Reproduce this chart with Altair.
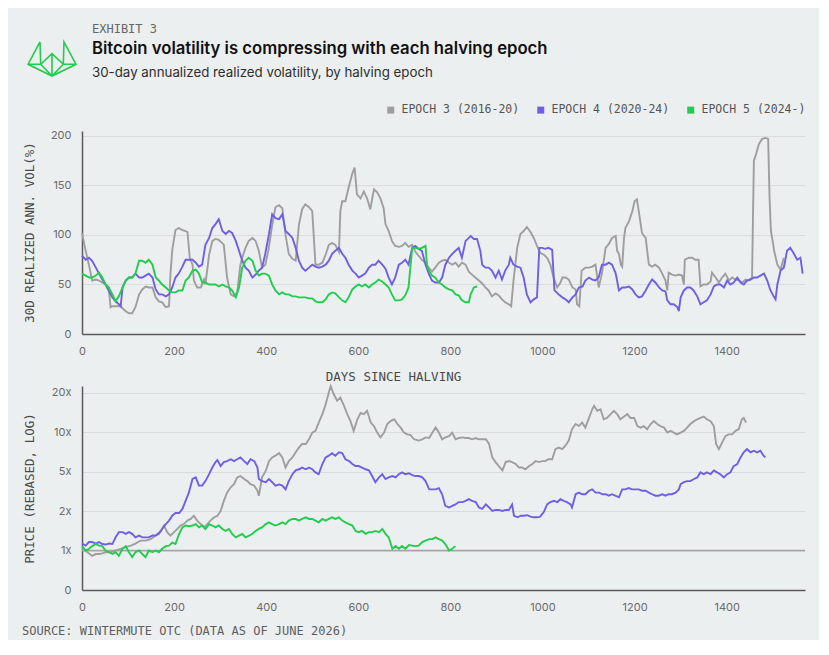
import pandas as pd
import altair as alt

MONO = "DejaVu Sans Mono"
SANS = "Inter"

EPOCHS = ["EPOCH 3 (2016-20)", "EPOCH 4 (2020-24)", "EPOCH 5 (2024-)"]
COLORS = ["#9e9e9e", "#6f5fe3", "#22cc4d"]

# 30-day annualized realized vol (%) -> (days since halving, value)
vol_e3 = [(0, 102), (8, 84), (15, 70), (22, 54), (30, 55), (37, 54), (44, 52), (51, 50), (58, 47), (62, 27), (66, 28),
          (73, 28), (84, 28), (88, 26), (95, 23), (102, 21), (109, 21), (116, 27), (124, 40), (131, 45), (138, 48),
          (145, 47), (153, 47), (160, 37), (167, 33), (174, 32), (182, 27), (189, 28), (192, 60), (196, 85), (203, 105),
          (210, 107), (218, 105), (225, 104), (229, 103), (234, 77), (240, 70), (243, 54), (250, 47), (258, 47),
          (265, 55), (268, 50), (276, 80), (283, 94), (290, 96), (297, 95), (304, 92), (308, 90), (315, 57), (323, 40),
          (330, 38), (337, 42), (344, 70), (348, 77), (355, 87), (362, 94), (370, 97), (377, 94), (384, 84), (391, 67),
          (398, 70), (405, 85), (413, 110), (420, 128), (428, 130), (435, 127), (442, 100), (449, 81), (457, 76),
          (464, 74), (471, 110), (478, 126), (485, 131), (493, 128), (500, 124), (507, 70), (514, 70), (522, 72),
          (529, 80), (536, 90), (543, 92), (550, 90), (558, 83), (561, 124), (565, 134), (572, 134), (579, 148),
          (587, 162), (592, 168), (597, 141), (605, 137), (612, 144), (619, 137), (626, 126), (634, 146), (641, 143),
          (648, 137), (655, 127), (659, 111), (666, 104), (673, 94), (680, 89), (688, 88), (695, 89), (702, 92),
          (709, 88), (717, 90), (724, 83), (731, 79), (738, 75), (746, 72), (753, 67), (760, 63), (767, 67), (775, 72),
          (782, 74), (789, 75), (797, 72), (804, 70), (811, 72), (818, 68), (825, 72), (833, 70), (840, 63), (847, 60),
          (854, 57), (862, 54), (869, 51), (876, 47), (883, 44), (890, 38), (898, 41), (905, 39), (912, 35), (919, 32),
          (927, 30), (932, 28), (937, 54), (945, 87), (952, 101), (959, 104), (966, 108), (974, 103), (981, 97),
          (988, 89), (995, 82), (1003, 80), (1010, 77), (1017, 70), (1024, 57), (1032, 47), (1039, 52), (1043, 57),
          (1050, 57), (1057, 55), (1065, 47), (1072, 45), (1075, 30), (1080, 28), (1085, 64), (1093, 67), (1101, 67),
          (1108, 68), (1115, 70), (1122, 47), (1129, 61), (1137, 87), (1144, 91), (1151, 97), (1159, 99), (1162, 84),
          (1166, 81), (1170, 70), (1173, 68), (1177, 97), (1180, 107), (1188, 114), (1195, 124), (1200, 134),
          (1205, 136), (1210, 121), (1216, 102), (1224, 97), (1231, 70), (1238, 68), (1245, 70), (1253, 67), (1260, 61),
          (1267, 54), (1271, 44), (1274, 62), (1281, 60), (1289, 59), (1296, 60), (1303, 59), (1307, 50), (1309, 75),
          (1318, 77), (1325, 77), (1332, 75), (1339, 75), (1343, 48), (1350, 50), (1357, 50), (1365, 53), (1368, 62),
          (1376, 57), (1383, 52), (1390, 57), (1397, 61), (1405, 54), (1412, 57), (1419, 55), (1427, 54), (1434, 52),
          (1441, 55), (1448, 54), (1455, 57), (1459, 175), (1464, 182), (1470, 192), (1477, 197), (1484, 198),
          (1490, 197), (1493, 138), (1496, 104), (1499, 96), (1503, 84), (1510, 70), (1517, 65), (1524, 77)]

vol_e4 = [(0, 79), (8, 75), (15, 77), (22, 74), (30, 67), (37, 61), (44, 55), (51, 50), (58, 44), (66, 37), (73, 33),
          (80, 30), (84, 28), (88, 47), (95, 54), (102, 57), (109, 57), (116, 61), (124, 57), (131, 57), (138, 59),
          (145, 61), (153, 57), (160, 45), (167, 40), (174, 40), (182, 38), (189, 40), (196, 47), (203, 57), (210, 61),
          (218, 68), (225, 75), (232, 75), (240, 75), (247, 72), (254, 68), (261, 70), (268, 90), (276, 97), (283, 107),
          (290, 111), (297, 116), (305, 104), (312, 101), (319, 104), (326, 102), (334, 94), (341, 84), (348, 74),
          (355, 67), (362, 64), (370, 57), (377, 60), (384, 64), (391, 67), (398, 81), (406, 101), (413, 121),
          (420, 117), (428, 116), (435, 121), (442, 104), (449, 101), (457, 97), (464, 87), (471, 74), (478, 67),
          (485, 64), (493, 67), (500, 70), (507, 68), (514, 67), (522, 68), (529, 70), (536, 74), (543, 81), (550, 84),
          (558, 87), (565, 81), (572, 77), (579, 70), (587, 64), (594, 61), (601, 57), (608, 59), (615, 61), (623, 67),
          (630, 70), (637, 70), (644, 74), (652, 70), (659, 66), (666, 57), (673, 50), (680, 57), (688, 70), (695, 72),
          (702, 75), (709, 70), (717, 87), (724, 89), (731, 86), (738, 84), (746, 70), (753, 61), (760, 54), (767, 52),
          (775, 52), (782, 57), (789, 70), (797, 77), (804, 81), (811, 84), (818, 87), (825, 77), (833, 94), (840, 97),
          (844, 99), (851, 96), (858, 96), (865, 84), (869, 70), (876, 67), (883, 67), (890, 64), (898, 57), (905, 64),
          (912, 55), (919, 64), (927, 70), (930, 77), (937, 70), (945, 68), (952, 67), (959, 57), (966, 40), (974, 32),
          (981, 35), (988, 37), (993, 87), (999, 87), (1006, 86), (1013, 87), (1021, 85), (1026, 44), (1035, 40),
          (1043, 37), (1050, 35), (1057, 32), (1065, 37), (1072, 40), (1079, 47), (1087, 48), (1093, 54), (1101, 57),
          (1108, 55), (1115, 54), (1122, 57), (1129, 70), (1137, 70), (1144, 72), (1151, 70), (1159, 61), (1166, 44),
          (1173, 47), (1180, 47), (1188, 48), (1195, 45), (1202, 40), (1209, 37), (1216, 38), (1224, 44), (1231, 50),
          (1238, 55), (1245, 52), (1253, 47), (1260, 44), (1267, 43), (1271, 34), (1278, 30), (1285, 30), (1293, 27),
          (1296, 23), (1300, 37), (1307, 44), (1314, 47), (1321, 47), (1328, 44), (1336, 38), (1343, 30), (1350, 32),
          (1357, 34), (1365, 40), (1372, 48), (1379, 50), (1386, 50), (1394, 47), (1401, 54), (1408, 50), (1415, 52),
          (1423, 57), (1430, 52), (1437, 50), (1444, 54), (1452, 55), (1459, 57), (1466, 57), (1473, 59), (1481, 61),
          (1488, 54), (1495, 44), (1502, 38), (1506, 35), (1510, 50), (1517, 64), (1524, 67), (1531, 84), (1538, 87),
          (1546, 81), (1553, 75), (1560, 77), (1565, 61)]

vol_e5 = [(0, 61), (8, 59), (15, 57), (22, 57), (30, 59), (37, 62), (44, 57), (51, 50), (58, 47), (66, 40), (73, 33),
          (80, 38), (88, 47), (95, 54), (102, 57), (109, 57), (116, 61), (124, 74), (131, 74), (138, 72), (145, 75),
          (153, 70), (160, 57), (167, 54), (174, 50), (182, 47), (189, 44), (196, 42), (203, 42), (210, 44), (218, 44),
          (225, 54), (232, 57), (240, 64), (247, 65), (254, 61), (261, 52), (268, 52), (276, 50), (283, 50), (290, 50),
          (297, 48), (305, 50), (312, 48), (319, 47), (326, 44), (334, 37), (341, 47), (348, 67), (355, 74), (362, 77),
          (370, 74), (377, 64), (384, 59), (391, 61), (398, 61), (406, 59), (413, 50), (420, 44), (428, 40), (435, 42),
          (442, 40), (449, 40), (457, 38), (464, 38), (471, 37), (478, 37), (485, 37), (493, 36), (500, 36), (507, 33),
          (514, 32), (522, 32), (529, 35), (536, 40), (543, 42), (550, 41), (558, 37), (565, 34), (572, 32), (579, 37),
          (587, 45), (594, 48), (601, 50), (608, 48), (615, 50), (623, 47), (630, 50), (637, 52), (644, 55), (652, 53),
          (659, 50), (666, 47), (673, 40), (680, 34), (688, 34), (695, 35), (702, 39), (709, 47), (717, 87), (724, 87),
          (731, 86), (738, 87), (746, 89), (749, 70), (753, 64), (760, 59), (767, 57), (775, 52), (782, 50), (789, 47),
          (797, 45), (804, 44), (811, 40), (818, 39), (825, 34), (833, 32), (840, 32), (844, 40), (851, 47), (858, 48)]

# price rebased to 1x at the halving -> (days since halving, multiple)
px_e3 = [(0, 1.03), (12, 0.97), (22, 0.91), (30, 0.94), (37, 0.94), (44, 0.95), (51, 0.97), (62, 0.97), (73, 1.0),
         (84, 1.03), (95, 1.06), (106, 1.09), (116, 1.13), (127, 1.19), (138, 1.19), (149, 1.22), (160, 1.30),
         (171, 1.41), (178, 1.55), (185, 1.38), (192, 1.30), (200, 1.38), (207, 1.46), (214, 1.55), (221, 1.59),
         (229, 1.69), (236, 1.74), (243, 1.84), (250, 1.69), (258, 1.59), (265, 1.50), (272, 1.59), (279, 1.69),
         (287, 1.79), (294, 1.84), (301, 2.0), (308, 2.53), (315, 3.06), (323, 3.47), (330, 3.73), (337, 4.36),
         (344, 4.5), (352, 4.2), (359, 4.0), (366, 3.73), (374, 3.6), (381, 3.2), (384, 2.85), (391, 4.36), (399, 5.05),
         (406, 6.0), (413, 6.4), (420, 6.6), (428, 6.9), (435, 6.4), (442, 5.36), (449, 6.0), (457, 6.4), (464, 7.0),
         (471, 7.6), (478, 8.1), (486, 8.1), (493, 8.8), (500, 9.9), (507, 10.2), (514, 11.8), (522, 13.7), (529, 16.2),
         (536, 20.0), (540, 22.4), (547, 19.3), (554, 17.3), (561, 18.3), (569, 15.8), (576, 13.7), (583, 12.1),
         (590, 10.2), (598, 12.5), (605, 14.0), (612, 13.7), (619, 14.5), (627, 11.8), (634, 11.1), (641, 9.9),
         (648, 9.1), (656, 9.9), (663, 11.5), (670, 12.1), (678, 12.5), (685, 11.5), (692, 10.8), (699, 9.9), (706, 9.6),
         (713, 9.5), (721, 8.8), (731, 8.6), (739, 8.8), (746, 9.1), (754, 9.0), (761, 9.9), (768, 10.8), (775, 9.9),
         (782, 8.8), (789, 9.1), (797, 9.3), (804, 9.9), (811, 8.8), (818, 9.0), (826, 9.1), (833, 9.0), (840, 9.0),
         (847, 8.8), (855, 9.0), (862, 8.8), (869, 8.8), (877, 8.8), (884, 8.1), (891, 6.4), (898, 5.9), (905, 5.5),
         (913, 5.1), (920, 5.9), (927, 6.0), (934, 5.9), (942, 5.7), (949, 5.36), (956, 5.36), (963, 5.2), (971, 5.5),
         (978, 5.7), (985, 6.0), (992, 5.9), (999, 6.0), (1006, 6.0), (1013, 6.2), (1021, 6.2), (1028, 7.4),
         (1035, 7.6), (1043, 7.4), (1050, 7.9), (1057, 8.6), (1064, 10.5), (1072, 11.5), (1079, 11.1), (1086, 11.8),
         (1093, 10.8), (1101, 12.8), (1108, 14.9), (1112, 15.8), (1119, 14.5), (1126, 14.9), (1133, 12.5),
         (1140, 12.8), (1148, 13.7), (1155, 14.5), (1162, 13.7), (1169, 12.5), (1177, 13.1), (1184, 13.7),
         (1191, 12.8), (1199, 12.8), (1206, 11.1), (1213, 10.8), (1220, 11.1), (1227, 10.5), (1235, 11.5),
         (1242, 12.1), (1249, 11.5), (1256, 11.1), (1264, 10.8), (1271, 9.9), (1278, 10.2), (1285, 9.9), (1292, 9.6),
         (1300, 9.9), (1307, 10.2), (1314, 10.8), (1321, 11.5), (1329, 12.1), (1336, 12.5), (1343, 12.8), (1350, 13.1),
         (1357, 12.5), (1365, 12.1), (1372, 11.1), (1377, 8.1), (1383, 7.4), (1390, 8.3), (1397, 9.3), (1404, 9.6),
         (1412, 9.6), (1419, 10.2), (1426, 10.5), (1433, 12.5), (1437, 12.8), (1442, 11.8)]

px_e4 = [(0, 1.13), (8, 1.09), (15, 1.16), (22, 1.16), (30, 1.13), (37, 1.16), (44, 1.12), (51, 1.11), (59, 1.13),
         (66, 1.12), (73, 1.26), (80, 1.38), (88, 1.38), (95, 1.34), (102, 1.38), (109, 1.34), (116, 1.26), (124, 1.30),
         (131, 1.26), (138, 1.26), (145, 1.26), (153, 1.30), (160, 1.30), (167, 1.34), (174, 1.46), (182, 1.59),
         (189, 1.69), (196, 1.84), (203, 1.93), (211, 1.93), (218, 2.1), (225, 2.53), (232, 3.06), (240, 4.2),
         (247, 4.36), (254, 3.6), (261, 3.6), (268, 4.0), (276, 4.7), (283, 5.36), (290, 5.9), (294, 6.1), (301, 5.5),
         (308, 5.9), (315, 6.0), (323, 6.2), (330, 6.0), (337, 6.2), (344, 6.4), (352, 6.0), (359, 5.7), (366, 6.2),
         (374, 6.0), (381, 5.36), (384, 4.2), (391, 4.0), (399, 3.9), (406, 4.2), (413, 3.9), (420, 3.6), (428, 3.7),
         (435, 3.6), (442, 3.3), (449, 4.0), (457, 4.7), (464, 5.1), (471, 5.2), (478, 5.36), (486, 5.2), (493, 5.36),
         (500, 5.2), (507, 4.9), (514, 4.7), (522, 5.7), (529, 6.4), (536, 6.6), (543, 6.9), (550, 6.6), (558, 7.0),
         (565, 6.9), (572, 6.2), (580, 6.0), (587, 5.7), (594, 5.5), (601, 5.5), (608, 5.36), (616, 5.2), (623, 5.1),
         (630, 4.5), (637, 3.9), (645, 4.36), (652, 4.7), (659, 4.2), (666, 4.36), (674, 4.5), (681, 4.36), (688, 4.7),
         (695, 4.9), (702, 4.7), (710, 4.8), (717, 4.6), (724, 4.5), (731, 4.5), (739, 4.36), (746, 4.0), (754, 3.3),
         (761, 3.3), (768, 3.3), (775, 3.4), (782, 2.95), (789, 2.25), (797, 2.17), (804, 2.25), (811, 2.33),
         (818, 2.46), (826, 2.46), (833, 2.53), (840, 2.63), (847, 2.53), (855, 2.46), (862, 2.17), (869, 2.1),
         (877, 2.33), (884, 2.17), (891, 2.0), (898, 2.05), (905, 2.05), (913, 2.0), (920, 2.05), (927, 2.05),
         (934, 2.33), (938, 1.84), (946, 1.79), (953, 1.84), (960, 1.84), (967, 1.86), (974, 1.81), (981, 1.79),
         (988, 1.79), (995, 1.81), (1003, 1.97), (1010, 2.33), (1017, 2.46), (1025, 2.53), (1032, 2.46), (1039, 2.63),
         (1046, 2.53), (1053, 2.46), (1061, 2.33), (1064, 2.17), (1072, 2.95), (1079, 3.06), (1086, 2.95),
         (1093, 2.95), (1101, 3.2), (1108, 3.3), (1115, 3.06), (1123, 3.06), (1130, 2.95), (1137, 2.95), (1144, 2.85),
         (1151, 2.95), (1158, 2.85), (1166, 2.75), (1173, 3.3), (1180, 3.3), (1187, 3.4), (1195, 3.3), (1202, 3.3),
         (1209, 3.3), (1216, 3.2), (1224, 3.2), (1231, 3.06), (1238, 2.95), (1245, 2.85), (1252, 2.85), (1260, 2.95),
         (1267, 2.85), (1274, 2.95), (1281, 2.95), (1289, 3.06), (1296, 3.3), (1300, 3.73), (1307, 3.9), (1314, 4.0),
         (1321, 4.0), (1329, 4.2), (1336, 4.36), (1343, 4.9), (1350, 4.7), (1357, 4.9), (1365, 4.7), (1372, 5.1),
         (1379, 4.9), (1386, 4.7), (1394, 4.36), (1401, 4.7), (1408, 4.9), (1415, 5.5), (1423, 5.7), (1430, 6.4),
         (1437, 7.0), (1444, 7.4), (1452, 7.0), (1459, 7.2), (1466, 7.0), (1473, 7.2), (1480, 6.6), (1484, 6.4)]

px_e5 = [(0, 1.08), (8, 1.0), (15, 1.03), (22, 1.08), (30, 1.12), (37, 1.09), (44, 1.08), (51, 1.0), (59, 0.97),
         (66, 0.94), (73, 0.97), (80, 0.91), (88, 1.03), (95, 1.08), (102, 0.97), (109, 0.89), (116, 0.97), (124, 1.0),
         (131, 0.94), (138, 0.89), (145, 1.0), (153, 0.97), (160, 1.0), (167, 0.97), (174, 1.03), (182, 1.08),
         (189, 1.09), (196, 1.15), (203, 1.12), (211, 1.34), (218, 1.50), (225, 1.55), (232, 1.53), (240, 1.55),
         (247, 1.59), (254, 1.50), (261, 1.55), (268, 1.46), (276, 1.59), (283, 1.55), (290, 1.50), (297, 1.55),
         (305, 1.46), (312, 1.41), (319, 1.46), (326, 1.34), (334, 1.26), (341, 1.30), (348, 1.34), (355, 1.26),
         (363, 1.30), (370, 1.34), (377, 1.41), (384, 1.46), (391, 1.50), (399, 1.59), (406, 1.64), (413, 1.59),
         (420, 1.55), (428, 1.59), (435, 1.64), (442, 1.59), (449, 1.69), (457, 1.74), (464, 1.74), (471, 1.69),
         (478, 1.74), (486, 1.79), (493, 1.74), (500, 1.74), (507, 1.69), (514, 1.64), (522, 1.74), (529, 1.69),
         (536, 1.74), (543, 1.79), (550, 1.74), (558, 1.79), (565, 1.69), (572, 1.64), (580, 1.59), (587, 1.55),
         (594, 1.41), (601, 1.38), (608, 1.41), (616, 1.34), (623, 1.38), (630, 1.38), (637, 1.41), (645, 1.38),
         (652, 1.46), (659, 1.34), (666, 1.26), (674, 1.03), (681, 1.08), (688, 1.03), (695, 1.08), (702, 1.03),
         (710, 1.10), (717, 1.09), (724, 1.08), (731, 1.09), (739, 1.16), (746, 1.19), (754, 1.22), (761, 1.22),
         (768, 1.26), (775, 1.22), (782, 1.19), (789, 1.12), (797, 1.0), (804, 1.03), (811, 1.08)]

day_ticks = [0, 200, 400, 600, 800, 1000, 1200, 1400]
vol_ticks = [0, 50, 100, 150, 200]
price_ticks = [0.5, 1, 2, 5, 10, 20]
baseline = [1]


def frame(pairs, epoch, col):
    d = pd.DataFrame(pairs, columns=["day", col])
    d["epoch"] = epoch
    return d


vol_df = pd.concat([frame(vol_e3, EPOCHS[0], "vol"),
                    frame(vol_e4, EPOCHS[1], "vol"),
                    frame(vol_e5, EPOCHS[2], "vol")], ignore_index=True)
px_df = pd.concat([frame(px_e3, EPOCHS[0], "price"),
                   frame(px_e4, EPOCHS[1], "price"),
                   frame(px_e5, EPOCHS[2], "price")], ignore_index=True)

W = 723
axis_common = dict(
    labelFont=SANS, labelFontSize=11, labelColor="#6a6a6a",
    titleFont=MONO, titleFontSize=12.5, titleFontWeight="normal", titleColor="#4a4a4a",
    domainColor="#5a5a5a", domainWidth=1.5, ticks=False, tickSize=0,
)

x_scale = alt.Scale(domain=[0, 1570], nice=False, zero=False)
color_scale = alt.Scale(domain=EPOCHS, range=COLORS)

# ---- volatility panel
vol_lines = alt.Chart(vol_df).mark_line(strokeWidth=1.9).encode(
    x=alt.X("day:Q", scale=x_scale,
            axis=alt.Axis(values=day_ticks, format="d", grid=False, labelFlush=False, labelPadding=11,
                          title="DAYS SINCE HALVING", titleX=311, titleY=42,
                          titleAlign="center", titleBaseline="middle", **axis_common)),
    y=alt.Y("vol:Q", scale=alt.Scale(domain=[0, 205], nice=False),
            axis=alt.Axis(values=vol_ticks, grid=True, gridColor="#d9dcdd", gridWidth=1,
                          labelPadding=11, title="30D REALIZED ANN. VOL(%)",
                          titleX=-53, titleY=101, titleAngle=270, titleAlign="center",
                          titleBaseline="middle", **axis_common)),
    color=alt.Color("epoch:N", scale=color_scale,
                    legend=alt.Legend(orient="none", legendX=303, legendY=-27, direction="horizontal",
                                      title=None, symbolType="square", symbolSize=9, symbolStrokeWidth=4,
                                      labelFont=MONO, labelFontSize=11.5, labelColor="#555555",
                                      columnPadding=11, labelOffset=5)),
)

one = alt.Data(values=[{}])
exhibit = alt.Chart(one).mark_text(text="EXHIBIT 3", font=MONO, fontSize=12, color="#666666",
                                   align="left", baseline="middle").encode(x=alt.value(10), y=alt.value(-102))
title = alt.Chart(one).mark_text(text="Bitcoin volatility is compressing with each halving epoch",
                                 font=SANS, fontSize=16.7, fontWeight=600, color="#111111",
                                 align="left", baseline="middle").encode(x=alt.value(10), y=alt.value(-82))
subtitle = alt.Chart(one).mark_text(text="30-day annualized realized volatility, by halving epoch",
                                    font=SANS, fontSize=13.3, color="#2e2e2e",
                                    align="left", baseline="middle").encode(x=alt.value(10), y=alt.value(-58))
logo_path = ("M-0.5,-0.71L-1,0.22L0,0.71L1,0.22L0.5,-0.71L0.47,0.22L1,0.22"
             "M-0.5,-0.71L-0.47,0.22L-1,0.22"
             "M-0.47,0.22L0,-0.22L0.47,0.22L0,0.71L-0.47,0.22M0,-0.22L0,0.71")
logo = alt.Chart(one).mark_point(shape=logo_path, filled=False, stroke="#22cc4d", strokeWidth=1.6,
                                 opacity=1, size=2304).encode(x=alt.value(-30), y=alt.value(-72))

vol_panel = alt.layer(vol_lines, exhibit, title, subtitle, logo).properties(width=W, height=203)

# ---- price panel
price_scale = alt.Scale(type="log", nice=False,
                        domain=[0.5, 1, 2, 5, 10, 20, 22.5],
                        range=[204, 164.5, 125, 85.5, 46, 6.5, 0])

px_x = alt.X("day:Q", scale=x_scale,
             axis=alt.Axis(values=day_ticks, format="d", grid=False, labelFlush=False, labelPadding=11,
                           title=None, **axis_common))
px_lines = alt.Chart(px_df).mark_line(strokeWidth=1.9).encode(
    x=px_x,
    y=alt.Y("price:Q", scale=price_scale,
            axis=alt.Axis(values=price_ticks, grid=True, gridColor="#d9dcdd", gridWidth=1,
                          labelExpr="datum.value < 0.75 ? '0' : datum.value + 'x'",
                          labelPadding=11, title="PRICE (REBASED, LOG)",
                          titleX=-53, titleY=102, titleAngle=270, titleAlign="center",
                          titleBaseline="middle", **axis_common)),
    color=alt.Color("epoch:N", scale=color_scale, legend=None),
)

one_line = alt.Chart(pd.DataFrame({"price": baseline})).mark_rule(color="#a3a3a3", strokeWidth=1.5).encode(
    y=alt.Y("price:Q", scale=price_scale)
)

source = alt.Chart(one).mark_text(text="SOURCE: WINTERMUTE OTC (DATA AS OF JUNE 2026)", font=MONO,
                                  fontSize=12, color="#5e5e5e", align="left",
                                  baseline="middle").encode(x=alt.value(-60), y=alt.value(245))

price_panel = alt.layer(one_line, px_lines, source).properties(width=W, height=204)

chart = alt.vconcat(vol_panel, price_panel, spacing=52, bounds="flush").resolve_scale(
    color="independent"
).properties(
    background="#eceff0",
    padding={"left": 14, "top": 15, "right": 12, "bottom": 3},
).configure_view(stroke=None)

chart.save("out.html", embed_options={"renderer": "svg", "actions": False})
